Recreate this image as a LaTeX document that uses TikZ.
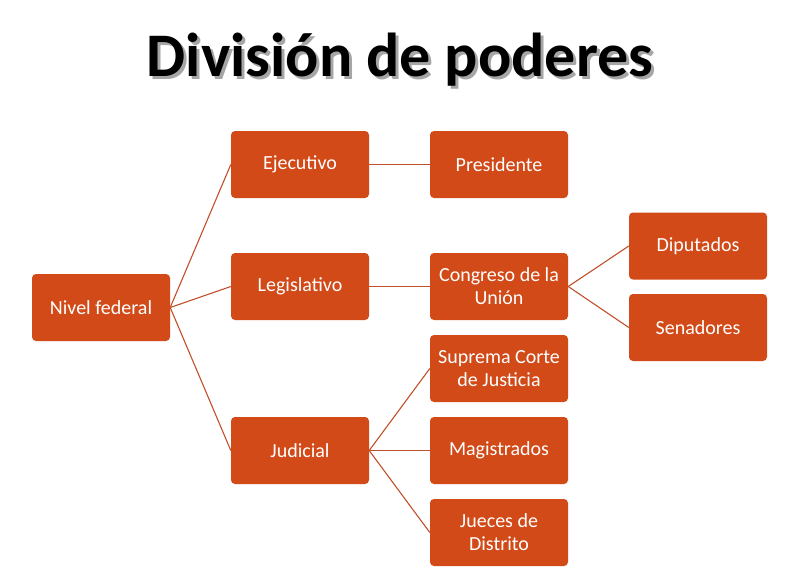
\documentclass[tikz,border=0pt]{standalone}
\usepackage{fontspec}
\setmainfont{Carlito}
\begin{document}
\begin{tikzpicture}[x=1pt,y=-1pt,
  box/.style={draw=none,fill=orgbox,rounded corners=4pt,minimum width=138pt,minimum height=67pt,text=white,align=center,font=\fontsize{20}{23}\selectfont,inner sep=2pt},
  link/.style={draw=orgline,line width=1.1pt}]
\definecolor{orgbox}{HTML}{D14A18}
\definecolor{orgline}{HTML}{C0502A}
\useasboundingbox (0,0) rectangle (799,570);
\node[text=black!35,font=\bfseries\fontsize{62}{66}\selectfont] at (403,63) {División de poderes};
\node[font=\bfseries\fontsize{62}{66}\selectfont] (title) at (400,60) {División de poderes};
\node[box] (nf) at (101,307.5) {Nivel federal};
\node[box] (ej) at (300,164.5) {Ejecutivo};
\node[box] (le) at (300,286.5) {Legislativo};
\node[box] (ju) at (300,450.5) {Judicial};
\node[box] (pr) at (499,164.5) {Presidente};
\node[box] (co) at (499,286.5) {Congreso de la\\Unión};
\node[box] (su) at (499,368.5) {Suprema Corte\\de Justicia};
\node[box] (ma) at (499,450.5) {Magistrados};
\node[box] (jd) at (499,532.5) {Jueces de\\Distrito};
\node[box] (di) at (698,246) {Diputados};
\node[box] (se) at (698,327.5) {Senadores};
\foreach \a/\b in {nf/ej,nf/le,nf/ju,ej/pr,le/co,ju/su,ju/ma,ju/jd,co/di,co/se}
  \draw[link] (\a.east) -- (\b.west);
\end{tikzpicture}
\end{document}
